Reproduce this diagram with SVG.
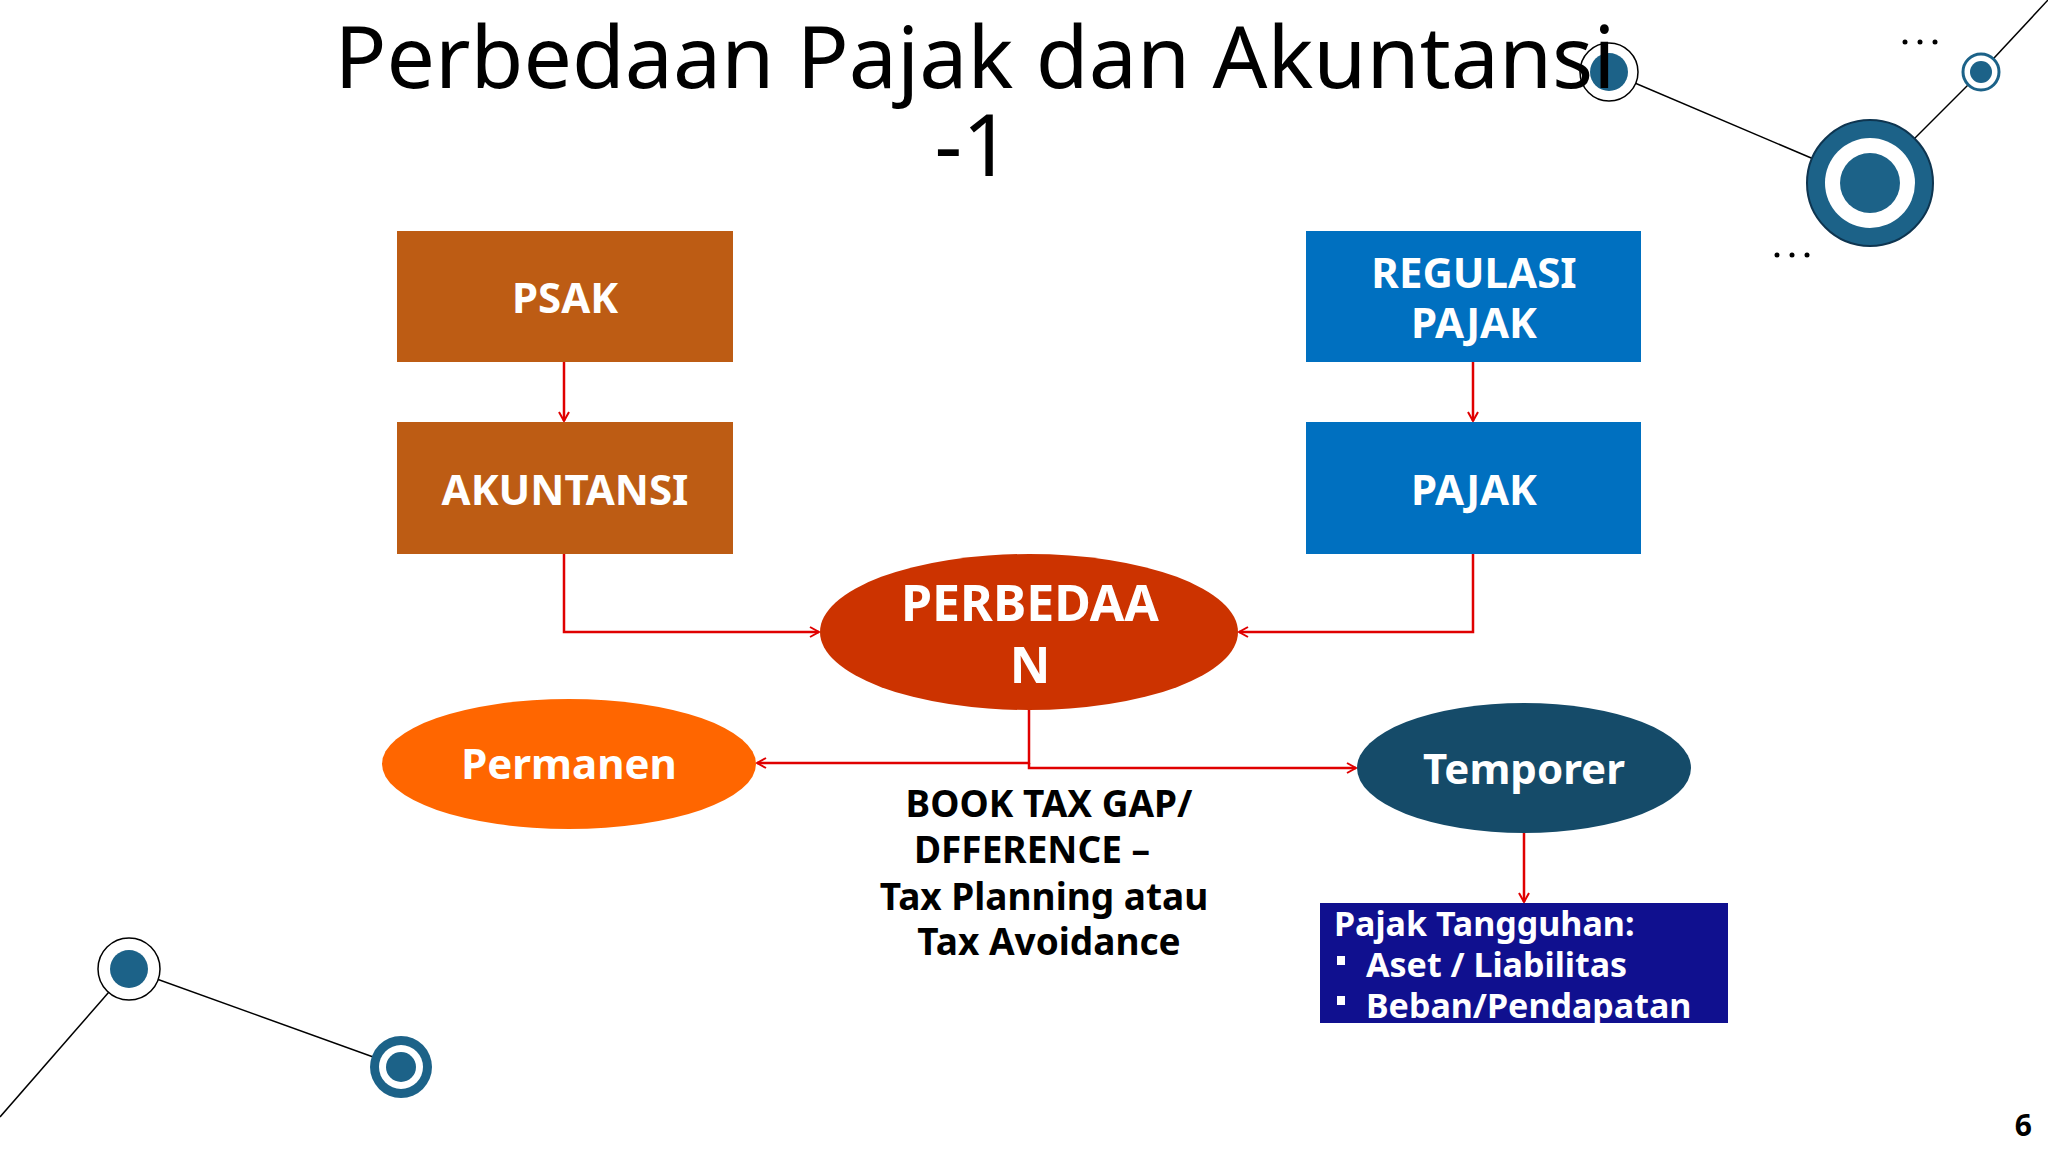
<svg xmlns="http://www.w3.org/2000/svg" width="2048" height="1152" viewBox="0 0 2048 1152">
<defs>
<marker id="ah" markerWidth="12" markerHeight="12" refX="10" refY="6" orient="auto" markerUnits="userSpaceOnUse"><path d="M1,1 L10,6 L1,11" fill="none" stroke="#E00000" stroke-width="2"/></marker>
</defs>
<style>
.t{font-family:"Noto Sans","Open Sans",sans-serif;font-weight:bold;fill:#fff;text-anchor:middle}
.c{fill:none;stroke:#E00000;stroke-width:2.5}
.d{stroke:#000;stroke-width:1.5;fill:none}
</style>
<rect width="2048" height="1152" fill="#fff"/>
<g id="deco">
<line class="d" x1="1609" y1="72" x2="1870" y2="183"/>
<line class="d" x1="1870" y1="183" x2="1981" y2="72"/>
<line class="d" x1="1981" y1="72" x2="2048" y2="0"/>
<circle cx="1609" cy="72" r="29" fill="#fff" stroke="#000" stroke-width="1.5"/>
<circle cx="1609" cy="72" r="19" fill="#1C6288"/>
<circle cx="1870" cy="183" r="63" fill="#1C6288" stroke="#0E3550" stroke-width="2"/>
<circle cx="1870" cy="183" r="45" fill="#fff"/>
<circle cx="1870" cy="183" r="30" fill="#1C6288"/>
<circle cx="1981" cy="72" r="18" fill="#fff" stroke="#1C6288" stroke-width="3"/>
<circle cx="1981" cy="72" r="11" fill="#1C6288"/>
<g fill="#000">
<circle cx="1905" cy="42" r="2.5"/><circle cx="1920" cy="42" r="2.5"/><circle cx="1935" cy="42" r="2.5"/>
<circle cx="1777" cy="255" r="2.5"/><circle cx="1792" cy="255" r="2.5"/><circle cx="1807" cy="255" r="2.5"/>
</g>
<line class="d" x1="0" y1="1117" x2="129" y2="969"/>
<line class="d" x1="129" y1="969" x2="401" y2="1067"/>
<circle cx="129" cy="969" r="31" fill="#fff" stroke="#000" stroke-width="1.5"/>
<circle cx="129" cy="969" r="19" fill="#1C6288"/>
<circle cx="401" cy="1067" r="31" fill="#1C6288"/>
<circle cx="401" cy="1067" r="22" fill="#fff"/>
<circle cx="401" cy="1067" r="15" fill="#1C6288"/>
</g>
<g id="title" font-family="Noto Sans,sans-serif" font-size="86" text-anchor="middle" fill="#000">
<text x="975" y="88">Perbedaan Pajak dan Akuntansi</text>
<text x="973" y="176">-1</text>
</g>
<g id="connectors">
<line class="c" x1="564" y1="362" x2="564" y2="421" marker-end="url(#ah)"/>
<line class="c" x1="1473" y1="362" x2="1473" y2="421" marker-end="url(#ah)"/>
<polyline class="c" points="564,554 564,632 819,632" marker-end="url(#ah)"/>
<polyline class="c" points="1473,554 1473,632 1239,632" marker-end="url(#ah)"/>
<polyline class="c" points="1029,710 1029,763 757,763" marker-end="url(#ah)"/>
<polyline class="c" points="1029,763 1029,768 1356,768" marker-end="url(#ah)"/>
<line class="c" x1="1524" y1="833" x2="1524" y2="902" marker-end="url(#ah)"/>
</g>
<g id="psak"><rect x="397" y="231" width="336" height="131" fill="#BD5C14"/><text class="t" x="565" y="313" font-size="42">PSAK</text></g>
<g id="akuntansi"><rect x="397" y="422" width="336" height="132" fill="#BD5C14"/><text class="t" x="565" y="505" font-size="42">AKUNTANSI</text></g>
<g id="regulasi"><rect x="1306" y="231" width="335" height="131" fill="#0070C0"/><text class="t" x="1474" y="288" font-size="42">REGULASI</text><text class="t" x="1474" y="338" font-size="42">PAJAK</text></g>
<g id="pajak"><rect x="1306" y="422" width="335" height="132" fill="#0070C0"/><text class="t" x="1474" y="505" font-size="42">PAJAK</text></g>
<g id="perbedaan"><ellipse cx="1029" cy="632" rx="209" ry="78" fill="#CC3300"/><text class="t" x="1030" y="621" font-size="50">PERBEDAA</text><text class="t" x="1030" y="683" font-size="50">N</text></g>
<g id="permanen"><ellipse cx="569" cy="764" rx="187" ry="65" fill="#FF6600"/><text class="t" x="569" y="779" font-size="42">Permanen</text></g>
<g id="temporer"><ellipse cx="1524" cy="768" rx="167" ry="65" fill="#154B69"/><text class="t" x="1524" y="784" font-size="42">Temporer</text></g>
<g id="gap" font-family="Noto Sans,sans-serif" font-weight="bold" font-size="37" text-anchor="middle" fill="#000">
<text x="1049" y="817">BOOK TAX GAP/</text>
<text x="1032" y="863">DFFERENCE –</text>
<text x="1044" y="910">Tax Planning atau</text>
<text x="1049" y="955">Tax Avoidance</text>
</g>
<g id="tangguhan"><rect x="1320" y="903" width="408" height="120" fill="#10108F"/>
<g font-family="Noto Sans,sans-serif" font-weight="bold" font-size="34" fill="#fff">
<text x="1334" y="936">Pajak Tangguhan:</text>
<rect x="1337" y="956" width="8" height="9"/><text x="1366" y="977">Aset / Liabilitas</text>
<rect x="1337" y="996" width="8" height="9"/><text x="1366" y="1018">Beban/Pendapatan</text>
</g></g>
<text x="2032" y="1136" font-family="Noto Sans,sans-serif" font-weight="bold" font-size="30" text-anchor="end">6</text>
</svg>
